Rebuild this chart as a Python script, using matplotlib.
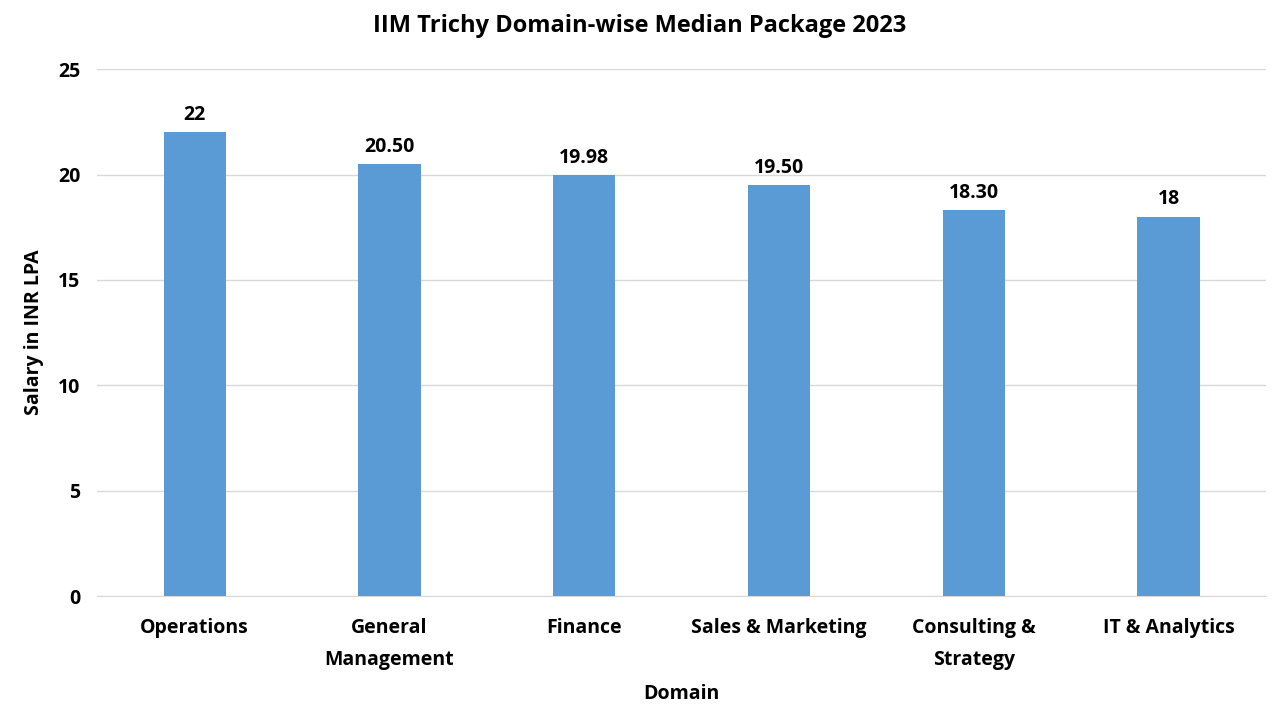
import matplotlib.pyplot as plt

domains = ["Operations", "General\nManagement", "Finance", "Sales & Marketing",
           "Consulting &\nStrategy", "IT & Analytics"]
salary = [22, 20.50, 19.98, 19.50, 18.30, 18]
labels = ["22", "20.50", "19.98", "19.50", "18.30", "18"]

plt.rcParams["font.family"] = ["Open Sans", "DejaVu Sans"]

fig = plt.figure(figsize=(12.8, 7.2), dpi=100)
ax = fig.add_axes([0.076, 0.172, 0.913, 0.732])

x = range(len(domains))
bars = ax.bar(x, salary, width=0.32, color="#5B9BD5", zorder=3)
for b, t in zip(bars, labels):
    ax.text(b.get_x() + b.get_width() / 2, b.get_height() + 0.35, t,
            ha="center", va="bottom", fontsize=14, fontweight="bold")

ax.set_ylim(0, 25)
ax.set_xlim(-0.5, len(domains) - 0.5)
ax.set_yticks([0, 5, 10, 15, 20, 25])
ax.set_xticks(list(x))
ax.set_xticklabels(domains, fontsize=14, fontweight="bold", linespacing=1.75)
for t in ax.get_yticklabels():
    t.set_fontsize(14)
    t.set_fontweight("bold")
ax.tick_params(axis="x", length=0, pad=16)
ax.tick_params(axis="y", length=0, pad=12)
ax.grid(axis="y", color="#d9d9d9", linewidth=1, zorder=0)
for s in ["top", "right", "left"]:
    ax.spines[s].set_visible(False)
ax.spines["bottom"].set_color("#d9d9d9")

ax.set_xlabel("Domain", fontsize=14, fontweight="bold", labelpad=10)
ax.set_ylabel("Salary in INR LPA", fontsize=14, fontweight="bold", labelpad=10)
fig.suptitle("IIM Trichy Domain-wise Median Package 2023", fontsize=17,
             fontweight="bold", y=0.98)

fig.savefig("out.png", dpi=100)
